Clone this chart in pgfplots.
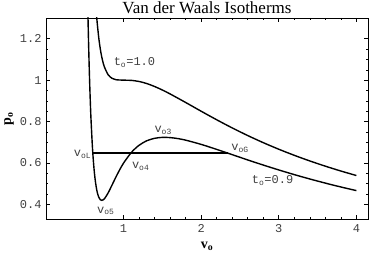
\documentclass[border=0pt]{standalone}
\usepackage{fontspec}
\setmainfont{Liberation Serif}
\setmonofont{Liberation Mono}
\usepackage{graphicx}
\usepackage{pgfplots}
\pgfplotsset{compat=1.18}
\begin{document}
\begin{tikzpicture}
\begin{axis}[name=ax,
  scale only axis, width=322pt, height=201pt,
  xmin=0, xmax=4.15, ymin=0.33, ymax=1.3,
  xtick={1,2,3,4}, xticklabels={1,2,3,4},
  ytick={0.4,0.6,0.8,1,1.2}, yticklabels={0.4,0.6,0.8,1,1.2},
  minor x tick num=4, minor y tick num=3,
  tick align=inside, major tick length=4pt, minor tick length=2pt,
  tick style={black, line width=0.6pt},
  axis line style={line width=0.9pt},
  ticklabel style={font=\ttfamily\fontsize{12}{12}\selectfont, text=black!75},
  xticklabel style={yshift=-2pt},
  yticklabel style={xshift=-1pt},
]
% t = 1.0
\addplot[black, line width=1.4pt, smooth] coordinates {
(0.64,1.3715) (0.65,1.3205) (0.66,1.2762) (0.68,1.2044) (0.70,1.1503) (0.72,1.1096)
(0.75,1.0667) (0.80,1.0268) (0.85,1.0091) (0.90,1.0022) (1.0,1.0) (1.1,0.9990)
(1.2,0.9936) (1.3,0.9835) (1.4,0.9694) (1.5,0.9524) (1.6,0.9334) (1.8,0.8923)
(2.0,0.85) (2.2,0.8088) (2.4,0.7695) (2.6,0.7327) (2.8,0.6984) (3.0,0.6667)
(3.2,0.6373) (3.4,0.6101) (3.6,0.5849) (3.8,0.5615) (4.0,0.5398)};
% t = 0.9
\addplot[black, line width=1.4pt, smooth] coordinates {
(0.53,1.5234) (0.54,1.3248) (0.545,1.2384) (0.55,1.1595) (0.56,1.0219) (0.57,0.9072)
(0.58,0.8117) (0.60,0.6667) (0.62,0.5677) (0.64,0.5019) (0.66,0.4598) (0.68,0.4352)
(0.70,0.4231) (0.72,0.4199) (0.74,0.4231) (0.76,0.4311) (0.80,0.4554) (0.85,0.4930)
(0.90,0.5316) (0.95,0.5678) (1.0,0.6) (1.1,0.6511) (1.2,0.6859) (1.3,0.7077)
(1.4,0.7194) (1.5,0.7238) (1.6,0.7228) (1.7,0.7180) (1.8,0.7105) (2.0,0.69)
(2.2,0.6659) (2.4,0.6405) (2.6,0.6150) (2.8,0.5903) (3.0,0.5667) (3.2,0.5442)
(3.4,0.5231) (3.6,0.5032) (3.8,0.4845) (4.0,0.4670)};
% Maxwell line
\addplot[black, line width=1.7pt] coordinates {(0.6034,0.647) (2.3488,0.647)};
\begin{scope}[every node/.style={font=\ttfamily\fontsize{12}{12}\selectfont, text=black!75, inner sep=0pt}]
\node at (axis cs:1.14,1.087) {t\textsubscript{o}=1.0};
\node at (axis cs:1.51,0.757) {v\textsubscript{o3}};
\node at (axis cs:0.47,0.640) {v\textsubscript{oL}};
\node at (axis cs:1.22,0.584) {v\textsubscript{o4}};
\node at (axis cs:2.5,0.669) {v\textsubscript{oG}};
\node at (axis cs:0.77,0.369) {v\textsubscript{o5}};
\node at (axis cs:2.92,0.517) {t\textsubscript{o}=0.9};
\end{scope}
\end{axis}
\node[anchor=base, inner sep=0pt, font=\fontsize{17}{17}\selectfont] at ([yshift=4pt]ax.north) {Van der Waals Isotherms};
\node[inner sep=0pt, font=\fontsize{14}{14}\selectfont] at ([yshift=-27.5pt]ax.south) {\textbf{v}\textsubscript{\textbf{o}}};
\node[inner sep=0pt, font=\fontsize{14}{14}\selectfont] at ([xshift=-37pt]ax.west) {\rotatebox{90}{\textbf{p}\textsubscript{\textbf{o}}}};
\pgfresetboundingbox
\path[use as bounding box] ([shift={(-46pt,-34pt)}]ax.south west) rectangle ([shift={(6pt,18pt)}]ax.north east);
\end{tikzpicture}
\end{document}
